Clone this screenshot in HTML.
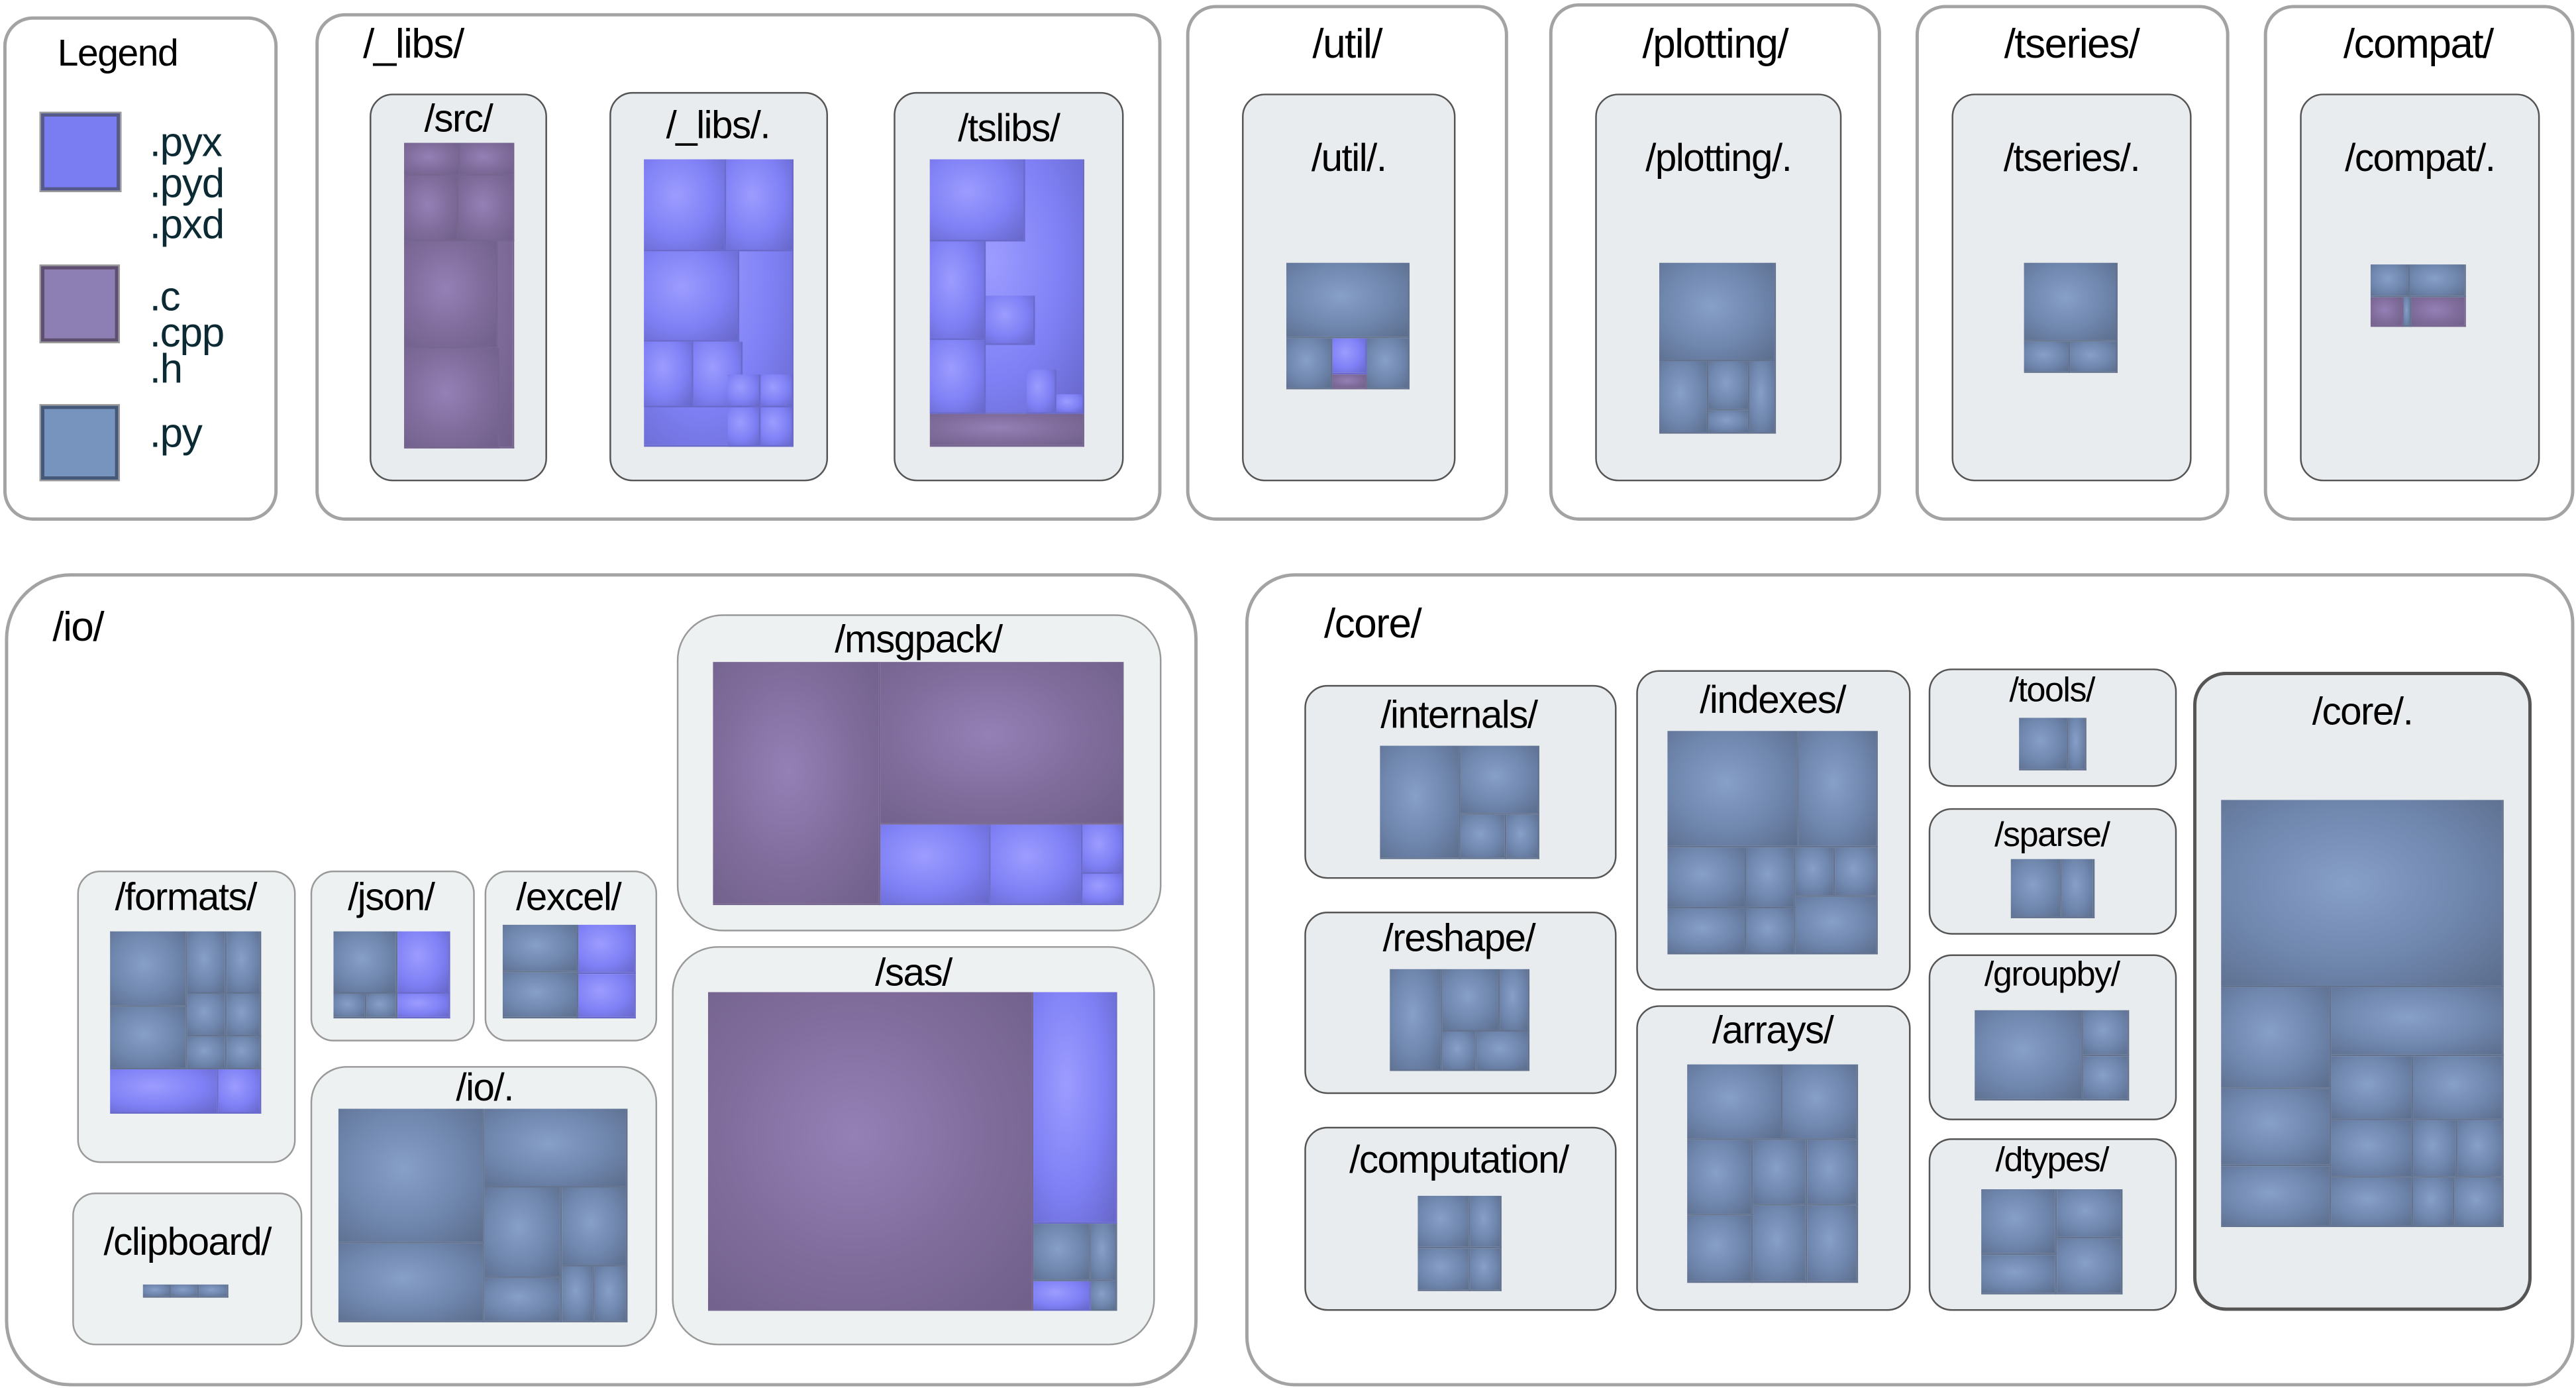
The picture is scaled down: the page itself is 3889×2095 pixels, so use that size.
<!DOCTYPE html>
<html><head><meta charset="utf-8"><style>
html,body{margin:0;padding:0;background:#fff;overflow:hidden}
#w{position:absolute;left:0;top:0;width:1568px;height:845px;transform:scale(2.4802,2.4793);transform-origin:0 0;font-family:"Liberation Sans",sans-serif}
.b{position:absolute;box-sizing:border-box;border:2px solid #a3a3a3;border-radius:18px;background:#fff}
.i{position:absolute;box-sizing:border-box;border:1.3px solid #555;border-radius:14px;background:#e9ecee}
.j{position:absolute;box-sizing:border-box;border:1.6px solid #999;border-radius:14px;background:#eef1f2}
.t{position:absolute;font-size:25px;color:#000;white-space:nowrap;letter-spacing:-0.6px}
.ct{position:absolute;font-size:23.5px;color:#000;white-space:nowrap;letter-spacing:-0.6px;transform:translateX(-50%)}
.tt{font-size:25px;top:13px!important}
.p,.c,.x{position:absolute;box-sizing:border-box}
.p{background:radial-gradient(ellipse at 45% 45%,#87a0c8 0%,#6f86ad 55%,#5b6d8c 100%);border-right:1px solid #62728f;border-bottom:1px solid #62728f}
.c{background:radial-gradient(ellipse at 45% 45%,#9580b6 0%,#806c9b 55%,#6f5f89 100%);border-right:1px solid #76668f;border-bottom:1px solid #76668f}
.x{background:radial-gradient(ellipse at 40% 40%,#9c9cff 0%,#7f80f5 55%,#6666c8 100%);border-right:1px solid #6a6acc;border-bottom:1px solid #6a6acc}
.lg{position:absolute;font-size:25px;color:#0b2a33;line-height:25px;letter-spacing:-0.5px}
</style></head><body><div id="w">

<!-- Legend -->
<div class="b" style="left:2px;top:10px;width:167px;height:307px"></div>
<div class="t" style="left:35px;top:19px;font-size:23px">Legend</div>
<div style="position:absolute;left:25px;top:69px;width:48px;height:47px;box-sizing:border-box;border:2px solid #555a8a;outline:1px solid #999;background:#7a7cf2"></div>
<div style="position:absolute;left:25px;top:162px;width:47px;height:46px;box-sizing:border-box;border:2px solid #5e4f70;outline:1px solid #999;background:#8d7fb3"></div>
<div style="position:absolute;left:25px;top:247px;width:47px;height:45px;box-sizing:border-box;border:2px solid #44587a;outline:1px solid #999;background:#7794bf"></div>
<div class="lg" style="left:91px;top:75px">.pyx<br>.pyd<br>.pxd</div>
<div class="lg" style="left:91px;top:170px;line-height:22px">.c<br>.cpp<br>.h</div>
<div class="lg" style="left:91px;top:252px">.py</div>

<!-- _libs -->
<div class="b" style="left:192px;top:8px;width:515px;height:309px"></div>
<div class="t" style="left:221px;top:13px">/_libs/</div>
<div class="i" style="left:225px;top:57px;width:108px;height:236px"></div>
<div class="ct" style="left:279px;top:59px">/src/</div>
<div class="c" style="left:246px;top:87px;width:67px;height:186px"></div>
<div class="c" style="left:246px;top:87px;width:34px;height:20px"></div>
<div class="c" style="left:280px;top:87px;width:33px;height:20px"></div>
<div class="c" style="left:246px;top:107px;width:33px;height:40px"></div>
<div class="c" style="left:279px;top:107px;width:34px;height:40px"></div>
<div class="c" style="left:246px;top:147px;width:57px;height:65px"></div>
<div class="c" style="left:246px;top:212px;width:58px;height:61px"></div>
<div class="i" style="left:371px;top:56px;width:133px;height:237px"></div>
<div class="ct" style="left:437px;top:63px">/_libs/.</div>
<div class="x" style="left:392px;top:97px;width:91px;height:175px"></div>
<div class="x" style="left:392px;top:97px;width:50px;height:56px"></div>
<div class="x" style="left:442px;top:97px;width:41px;height:56px"></div>
<div class="x" style="left:392px;top:153px;width:58px;height:55px"></div>
<div class="x" style="left:392px;top:208px;width:30px;height:40px"></div>
<div class="x" style="left:422px;top:208px;width:30px;height:40px"></div>
<div class="x" style="left:443px;top:228px;width:20px;height:20px"></div>
<div class="x" style="left:463px;top:228px;width:20px;height:20px"></div>
<div class="x" style="left:443px;top:248px;width:20px;height:24px"></div>
<div class="x" style="left:463px;top:248px;width:20px;height:24px"></div>
<div class="i" style="left:544px;top:56px;width:140px;height:237px"></div>
<div class="ct" style="left:614px;top:65px">/tslibs/</div>
<div class="x" style="left:566px;top:97px;width:94px;height:155px"></div>
<div class="x" style="left:566px;top:97px;width:58px;height:50px"></div>
<div class="x" style="left:566px;top:147px;width:34px;height:60px"></div>
<div class="x" style="left:600px;top:180px;width:30px;height:30px"></div>
<div class="x" style="left:566px;top:207px;width:34px;height:45px"></div>
<div class="x" style="left:625px;top:225px;width:18px;height:27px"></div>
<div class="x" style="left:643px;top:240px;width:17px;height:12px"></div>
<div class="c" style="left:566px;top:252px;width:94px;height:20px"></div>

<!-- util -->
<div class="b" style="left:722px;top:3px;width:196px;height:314px"></div>
<div class="ct tt" style="left:820px;top:13px">/util/</div>
<div class="i" style="left:756px;top:57px;width:130px;height:236px"></div>
<div class="ct" style="left:821px;top:83px">/util/.</div>
<div class="p" style="left:783px;top:160px;width:75px;height:46px"></div>
<div class="p" style="left:783px;top:206px;width:28px;height:31px"></div>
<div class="x" style="left:811px;top:206px;width:21px;height:22px"></div>
<div class="c" style="left:811px;top:228px;width:21px;height:9px"></div>
<div class="p" style="left:832px;top:206px;width:26px;height:31px"></div>

<!-- plotting -->
<div class="b" style="left:943px;top:2px;width:202px;height:315px"></div>
<div class="ct tt" style="left:1044px;top:13px">/plotting/</div>
<div class="i" style="left:971px;top:57px;width:150px;height:236px"></div>
<div class="ct" style="left:1046px;top:83px">/plotting/.</div>
<div class="p" style="left:1010px;top:160px;width:71px;height:60px"></div>
<div class="p" style="left:1010px;top:220px;width:30px;height:44px"></div>
<div class="p" style="left:1040px;top:220px;width:25px;height:30px"></div>
<div class="p" style="left:1065px;top:220px;width:16px;height:44px"></div>
<div class="p" style="left:1040px;top:250px;width:25px;height:14px"></div>

<!-- tseries -->
<div class="b" style="left:1166px;top:3px;width:191px;height:314px"></div>
<div class="ct tt" style="left:1261px;top:13px">/tseries/</div>
<div class="i" style="left:1188px;top:57px;width:146px;height:236px"></div>
<div class="ct" style="left:1261px;top:83px">/tseries/.</div>
<div class="p" style="left:1232px;top:160px;width:57px;height:48px"></div>
<div class="p" style="left:1232px;top:208px;width:28px;height:19px"></div>
<div class="p" style="left:1260px;top:208px;width:29px;height:19px"></div>

<!-- compat -->
<div class="b" style="left:1378px;top:3px;width:189px;height:314px"></div>
<div class="ct tt" style="left:1472px;top:13px">/compat/</div>
<div class="i" style="left:1400px;top:57px;width:146px;height:236px"></div>
<div class="ct" style="left:1473px;top:83px">/compat/.</div>
<div class="p" style="left:1443px;top:161px;width:24px;height:20px"></div>
<div class="p" style="left:1467px;top:161px;width:34px;height:20px"></div>
<div class="c" style="left:1443px;top:181px;width:20px;height:18px"></div>
<div class="p" style="left:1463px;top:181px;width:5px;height:18px"></div>
<div class="c" style="left:1468px;top:181px;width:33px;height:18px"></div>

<!-- io -->
<div class="b" style="left:3px;top:349px;width:726px;height:495px;border-radius:40px"></div>
<div class="t" style="left:32px;top:368px">/io/</div>
<div class="j" style="left:412px;top:374px;width:295px;height:193px;border-radius:28px"></div>
<div class="ct" style="left:559px;top:376px">/msgpack/</div>
<div class="c" style="left:434px;top:403px;width:102px;height:148px"></div>
<div class="c" style="left:536px;top:403px;width:148px;height:99px"></div>
<div class="x" style="left:536px;top:502px;width:67px;height:49px"></div>
<div class="x" style="left:603px;top:502px;width:56px;height:49px"></div>
<div class="x" style="left:659px;top:502px;width:25px;height:30px"></div>
<div class="x" style="left:659px;top:532px;width:25px;height:19px"></div>
<div class="j" style="left:409px;top:576px;width:294px;height:243px;border-radius:28px"></div>
<div class="ct" style="left:556px;top:579px">/sas/</div>
<div class="c" style="left:431px;top:604px;width:198px;height:194px"></div>
<div class="x" style="left:629px;top:604px;width:51px;height:141px"></div>
<div class="p" style="left:629px;top:745px;width:35px;height:35px"></div>
<div class="p" style="left:664px;top:745px;width:16px;height:35px"></div>
<div class="x" style="left:629px;top:780px;width:35px;height:18px"></div>
<div class="p" style="left:664px;top:780px;width:16px;height:18px"></div>
<div class="j" style="left:47px;top:530px;width:133px;height:178px"></div>
<div class="ct" style="left:113px;top:533px">/formats/</div>
<div class="p" style="left:67px;top:567px;width:47px;height:46px"></div>
<div class="p" style="left:67px;top:613px;width:47px;height:38px"></div>
<div class="p" style="left:114px;top:567px;width:24px;height:38px"></div>
<div class="p" style="left:138px;top:567px;width:21px;height:38px"></div>
<div class="p" style="left:114px;top:605px;width:24px;height:26px"></div>
<div class="p" style="left:138px;top:605px;width:21px;height:26px"></div>
<div class="p" style="left:114px;top:631px;width:24px;height:20px"></div>
<div class="p" style="left:138px;top:631px;width:21px;height:20px"></div>
<div class="x" style="left:67px;top:651px;width:66px;height:27px"></div>
<div class="x" style="left:133px;top:651px;width:26px;height:27px"></div>
<div class="j" style="left:189px;top:530px;width:100px;height:104px"></div>
<div class="ct" style="left:238px;top:533px">/json/</div>
<div class="p" style="left:203px;top:567px;width:39px;height:38px"></div>
<div class="p" style="left:203px;top:605px;width:20px;height:15px"></div>
<div class="p" style="left:223px;top:605px;width:19px;height:15px"></div>
<div class="x" style="left:242px;top:567px;width:32px;height:38px"></div>
<div class="x" style="left:242px;top:605px;width:32px;height:15px"></div>
<div class="j" style="left:295px;top:530px;width:105px;height:104px"></div>
<div class="ct" style="left:346px;top:533px">/excel/</div>
<div class="p" style="left:306px;top:563px;width:46px;height:29px"></div>
<div class="p" style="left:306px;top:592px;width:46px;height:28px"></div>
<div class="x" style="left:352px;top:563px;width:35px;height:30px"></div>
<div class="x" style="left:352px;top:593px;width:35px;height:27px"></div>
<div class="j" style="left:189px;top:649px;width:211px;height:171px;border-radius:22px"></div>
<div class="ct" style="left:295px;top:649px">/io/.</div>
<div class="p" style="left:206px;top:675px;width:89px;height:82px"></div>
<div class="p" style="left:206px;top:757px;width:89px;height:48px"></div>
<div class="p" style="left:295px;top:675px;width:87px;height:48px"></div>
<div class="p" style="left:295px;top:723px;width:47px;height:55px"></div>
<div class="p" style="left:295px;top:778px;width:47px;height:27px"></div>
<div class="p" style="left:342px;top:723px;width:40px;height:48px"></div>
<div class="p" style="left:342px;top:771px;width:20px;height:34px"></div>
<div class="p" style="left:362px;top:771px;width:20px;height:34px"></div>
<div class="j" style="left:44px;top:726px;width:140px;height:93px"></div>
<div class="ct" style="left:114px;top:743px">/clipboard/</div>
<div class="p" style="left:87px;top:782px;width:17px;height:8px"></div>
<div class="p" style="left:104px;top:782px;width:17px;height:8px"></div>
<div class="p" style="left:121px;top:782px;width:18px;height:8px"></div>

<!-- core -->
<div class="b" style="left:758px;top:349px;width:809px;height:495px;border-radius:30px"></div>
<div class="t" style="left:806px;top:366px">/core/</div>
<div class="i" style="left:794px;top:417px;width:190px;height:118px"></div>
<div class="ct" style="left:888px;top:422px">/internals/</div>
<div class="p" style="left:840px;top:454px;width:49px;height:69px"></div>
<div class="p" style="left:889px;top:454px;width:48px;height:42px"></div>
<div class="p" style="left:889px;top:496px;width:28px;height:27px"></div>
<div class="p" style="left:917px;top:496px;width:20px;height:27px"></div>
<div class="i" style="left:794px;top:555px;width:190px;height:111px"></div>
<div class="ct" style="left:888px;top:558px">/reshape/</div>
<div class="p" style="left:846px;top:590px;width:32px;height:62px"></div>
<div class="p" style="left:878px;top:590px;width:35px;height:38px"></div>
<div class="p" style="left:913px;top:590px;width:18px;height:38px"></div>
<div class="p" style="left:878px;top:628px;width:21px;height:24px"></div>
<div class="p" style="left:899px;top:628px;width:32px;height:24px"></div>
<div class="i" style="left:794px;top:686px;width:190px;height:112px"></div>
<div class="ct" style="left:888px;top:693px">/computation/</div>
<div class="p" style="left:863px;top:728px;width:32px;height:32px"></div>
<div class="p" style="left:895px;top:728px;width:19px;height:32px"></div>
<div class="p" style="left:863px;top:760px;width:32px;height:26px"></div>
<div class="p" style="left:895px;top:760px;width:19px;height:26px"></div>
<div class="i" style="left:996px;top:408px;width:167px;height:195px"></div>
<div class="ct" style="left:1079px;top:413px">/indexes/</div>
<div class="p" style="left:1015px;top:445px;width:80px;height:71px"></div>
<div class="p" style="left:1095px;top:445px;width:48px;height:71px"></div>
<div class="p" style="left:1015px;top:516px;width:48px;height:37px"></div>
<div class="p" style="left:1063px;top:516px;width:30px;height:37px"></div>
<div class="p" style="left:1093px;top:516px;width:24px;height:30px"></div>
<div class="p" style="left:1117px;top:516px;width:26px;height:30px"></div>
<div class="p" style="left:1015px;top:553px;width:48px;height:28px"></div>
<div class="p" style="left:1063px;top:553px;width:30px;height:28px"></div>
<div class="p" style="left:1093px;top:546px;width:50px;height:35px"></div>
<div class="i" style="left:996px;top:612px;width:167px;height:186px"></div>
<div class="ct" style="left:1079px;top:614px">/arrays/</div>
<div class="p" style="left:1027px;top:648px;width:58px;height:46px"></div>
<div class="p" style="left:1085px;top:648px;width:46px;height:46px"></div>
<div class="p" style="left:1027px;top:694px;width:40px;height:46px"></div>
<div class="p" style="left:1067px;top:694px;width:33px;height:40px"></div>
<div class="p" style="left:1100px;top:694px;width:31px;height:40px"></div>
<div class="p" style="left:1027px;top:740px;width:40px;height:41px"></div>
<div class="p" style="left:1067px;top:734px;width:33px;height:47px"></div>
<div class="p" style="left:1100px;top:734px;width:31px;height:47px"></div>
<div class="i" style="left:1174px;top:407px;width:151px;height:72px"></div>
<div class="ct" style="left:1249px;top:409px;font-size:21px">/tools/</div>
<div class="p" style="left:1229px;top:437px;width:30px;height:32px"></div>
<div class="p" style="left:1259px;top:437px;width:11px;height:32px"></div>
<div class="i" style="left:1174px;top:492px;width:151px;height:77px"></div>
<div class="ct" style="left:1249px;top:497px;font-size:21px">/sparse/</div>
<div class="p" style="left:1224px;top:523px;width:31px;height:36px"></div>
<div class="p" style="left:1255px;top:523px;width:20px;height:36px"></div>
<div class="i" style="left:1174px;top:581px;width:151px;height:101px"></div>
<div class="ct" style="left:1249px;top:582px;font-size:21px">/groupby/</div>
<div class="p" style="left:1202px;top:615px;width:66px;height:55px"></div>
<div class="p" style="left:1268px;top:615px;width:28px;height:28px"></div>
<div class="p" style="left:1268px;top:643px;width:28px;height:27px"></div>
<div class="i" style="left:1174px;top:693px;width:151px;height:105px"></div>
<div class="ct" style="left:1249px;top:695px;font-size:21px">/dtypes/</div>
<div class="p" style="left:1206px;top:724px;width:46px;height:40px"></div>
<div class="p" style="left:1206px;top:764px;width:46px;height:24px"></div>
<div class="p" style="left:1252px;top:724px;width:40px;height:30px"></div>
<div class="p" style="left:1252px;top:754px;width:40px;height:34px"></div>
<div class="i" style="left:1335px;top:409px;width:206px;height:389px;border:2px solid #555;border-radius:20px"></div>
<div class="ct" style="left:1438px;top:420px">/core/.</div>
<div class="p" style="left:1352px;top:487px;width:172px;height:114px"></div>
<div class="p" style="left:1352px;top:601px;width:67px;height:62px"></div>
<div class="p" style="left:1419px;top:601px;width:105px;height:42px"></div>
<div class="p" style="left:1352px;top:663px;width:67px;height:47px"></div>
<div class="p" style="left:1352px;top:710px;width:67px;height:37px"></div>
<div class="p" style="left:1419px;top:643px;width:50px;height:39px"></div>
<div class="p" style="left:1469px;top:643px;width:55px;height:39px"></div>
<div class="p" style="left:1419px;top:682px;width:50px;height:35px"></div>
<div class="p" style="left:1469px;top:682px;width:27px;height:35px"></div>
<div class="p" style="left:1496px;top:682px;width:28px;height:35px"></div>
<div class="p" style="left:1419px;top:717px;width:50px;height:30px"></div>
<div class="p" style="left:1469px;top:717px;width:25px;height:30px"></div>
<div class="p" style="left:1494px;top:717px;width:30px;height:30px"></div>

</div></body></html>
